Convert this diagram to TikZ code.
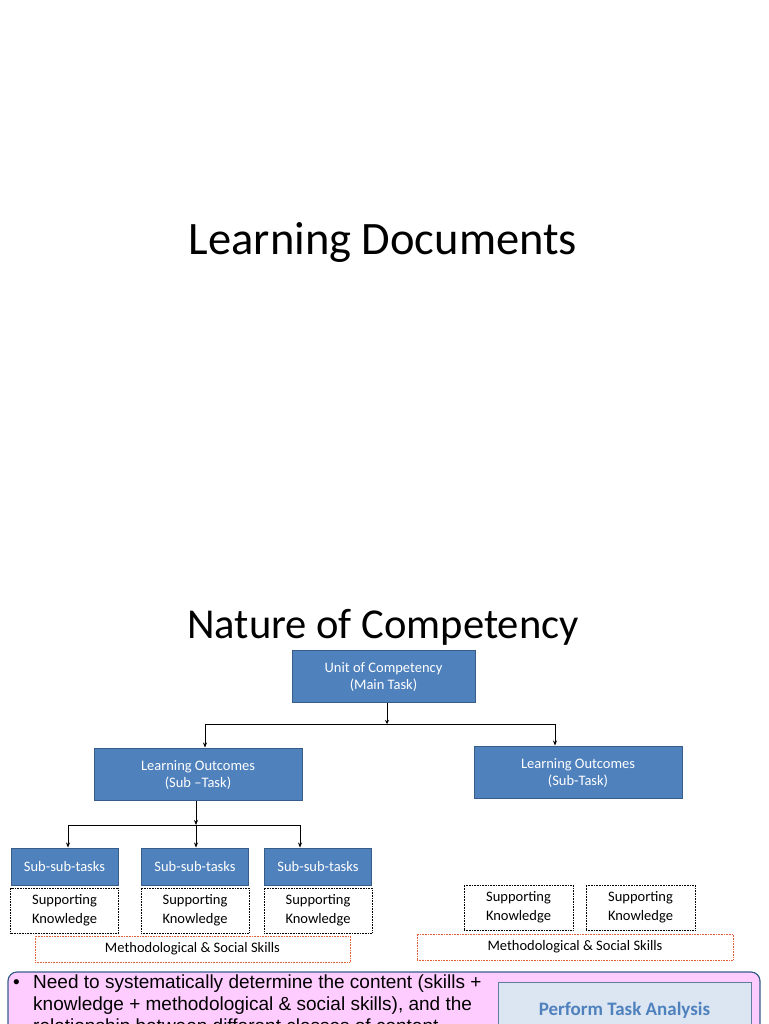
\documentclass[tikz,border=0pt]{standalone}
\usepackage{fontspec}
\setmainfont{Carlito}
\newfontfamily\arialf{Liberation Sans}
\usetikzlibrary{arrows.meta}
\definecolor{bluef}{HTML}{4F81BD}
\definecolor{blued}{HTML}{385D8A}
\definecolor{pinkf}{HTML}{FFCCFF}
\definecolor{lightb}{HTML}{DCE6F2}
\definecolor{redd}{HTML}{E0603A}
\begin{document}
\begin{tikzpicture}[x=1pt,y=-1pt,
 bbox/.style={draw=blued,fill=bluef,line width=1pt,text=white,font=\fontsize{14.5}{17}\selectfont,align=center,inner sep=0pt},
 skbox/.style={draw=black,densely dotted,line width=0.6pt,font=\fontsize{14.5}{19}\selectfont,align=center,inner sep=0pt},
 msbox/.style={draw=redd,densely dotted,line width=0.6pt,font=\fontsize{14.5}{17}\selectfont,inner sep=0pt},
 arr/.style={-{Stealth[length=5pt,width=4pt]},line width=0.7pt}]
\useasboundingbox (0,0) rectangle (768,1024);
\clip (0,0) rectangle (768,1024);
\node (t1) at (383,242) {\fontsize{46.5}{52}\selectfont Learning Documents};
\node (t2) at (383,627) {\fontsize{42.6}{50}\selectfont Nature of Competency};
\node[bbox,minimum width=183pt,minimum height=52pt] (u) at (383.5,676) {\rule{0pt}{12pt}Unit of Competency\\(Main Task)};
\node[bbox,minimum width=208pt,minimum height=52pt] (l1) at (198,774) {\rule{0pt}{12pt}Learning Outcomes\\(Sub --Task)};
\node[bbox,minimum width=208pt,minimum height=52pt] (l2) at (578,772) {\rule{0pt}{12pt}Learning Outcomes\\(Sub-Task)};
\coordinate (j1) at (387,724);
\draw[line width=0.7pt] (205,724) coordinate (a1) -- (555,724) coordinate (a2);
\draw[arr] (a1) -- (a1 |- l1.north);
\draw[arr] (a2) -- (a2 |- l2.north);
\draw[-{Stealth[length=4pt,width=4pt]},line width=0.7pt] (u.south -| j1) -- (j1);
\foreach \n/\x in {s1/64.5,s2/195,s3/318}{
 \node[bbox,minimum width=107pt,minimum height=37pt] (\n) at (\x,866.5) {Sub-sub-tasks};
 \node[skbox,minimum width=108pt,minimum height=45pt] (k\n) at (\x,910.5) {Supporting\\Knowledge};
}
\coordinate (j2) at (196,825);
\draw[arr] (l1.south -| j2) -- (j2);
\draw[line width=0.7pt] (68,825) coordinate (b1) -- (300,825) coordinate (b3);
\draw[arr] (b1) -- (b1 |- s1.north);
\draw[arr] (j2) -- (j2 |- s2.north);
\draw[arr] (b3) -- (b3 |- s3.north);
\node[skbox,minimum width=109pt,minimum height=45pt] (kr1) at (518.5,907.5) {Supporting\\Knowledge};
\node[skbox,minimum width=109pt,minimum height=45pt] (kr2) at (640.5,907.5) {Supporting\\Knowledge};
\node[msbox,minimum width=315pt,minimum height=26pt] (m1) at (192.5,949) {Methodological \& Social Skills};
\node[msbox,minimum width=316pt,minimum height=26pt] (m2) at (575,947) {Methodological \& Social Skills};
\draw[draw=blued,fill=pinkf,line width=1.2pt,rounded corners=9pt] (8,972) rectangle (760,1060);
\node[draw=blued!80,fill=lightb,line width=0.8pt,minimum width=253pt,minimum height=70pt,inner sep=0pt] (pt) at (624.5,1017) {};
\node[text=bluef,font=\fontsize{19}{22}\selectfont\bfseries] (ptt) at (624.5,1010) {Perform Task Analysis};
\node[anchor=north west,font=\arialf\fontsize{19}{22}\selectfont,align=left,inner sep=0pt] (bt) at (13,975)
 {\makebox[20pt][l]{\textbullet}Need to systematically determine the content (skills +\\
 \hspace*{20pt}knowledge + methodological \& social skills), and the\\
 \hspace*{20pt}relationship between different classes of content};
\end{tikzpicture}
\end{document}
